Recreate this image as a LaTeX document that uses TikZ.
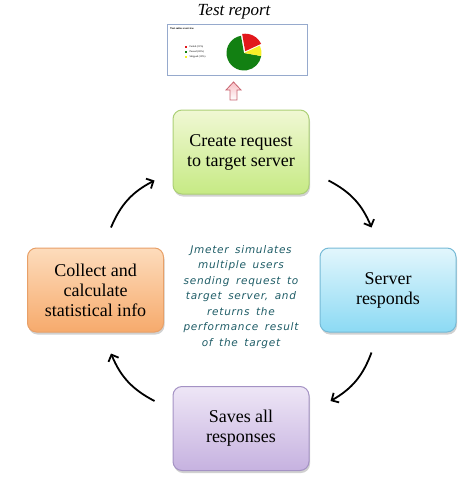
\documentclass[tikz,border=0pt]{standalone}
\usepackage{fontspec}
\setmainfont{Liberation Serif}
\newfontfamily\notefont{DejaVu Sans}[LetterSpace=7,WordSpace=1.6]
\usetikzlibrary{arrows.meta,shadows}

\definecolor{greentop}{RGB}{240,248,212}
\definecolor{greenbot}{RGB}{198,234,132}
\definecolor{greenline}{RGB}{172,208,118}
\definecolor{bluetop}{RGB}{226,246,252}
\definecolor{bluebot}{RGB}{140,218,244}
\definecolor{blueline}{RGB}{118,186,214}
\definecolor{purpletop}{RGB}{238,230,246}
\definecolor{purplebot}{RGB}{198,178,224}
\definecolor{purpleline}{RGB}{164,146,196}
\definecolor{orangetop}{RGB}{253,220,188}
\definecolor{orangebot}{RGB}{246,170,108}
\definecolor{orangeline}{RGB}{232,160,104}
\definecolor{noteteal}{RGB}{30,92,102}
\definecolor{reportblue}{RGB}{150,170,205}
\definecolor{pinkline}{RGB}{200,100,112}
\definecolor{pinkfill}{RGB}{248,190,196}
\definecolor{pgreen}{RGB}{18,128,18}
\definecolor{pred}{RGB}{226,24,28}
\definecolor{pyellow}{RGB}{246,238,40}

\tikzset{
  stepbox/.style={draw, rounded corners=9pt, line width=1pt,
    minimum width=136pt, minimum height=84pt, align=center,
    font=\fontsize{18}{20}\selectfont,
    drop shadow={shadow xshift=1pt, shadow yshift=-2.5pt, opacity=0.3, fill=black!60}},
  cyc/.style={line width=1.8pt, -{Straight Barb[length=5.5pt,width=11pt]}},
  legendbox/.style={minimum size=2.6pt, inner sep=0pt},
  legendtext/.style={anchor=west, inner sep=0pt, font=\fontsize{2.6}{3}\selectfont},
}

\begin{document}
\begin{tikzpicture}[x=1pt,y=-1pt]
\useasboundingbox (0,0) rectangle (474,482);

% test report on top
\node[font=\itshape\fontsize{17}{17}\selectfont] (title) at (234,12) {Test report};
\node[draw=reportblue, line width=1pt, fill=white, minimum width=140pt, minimum height=51pt] (report) at (237,49.5) {};
\node[anchor=north west, inner sep=0pt, font=\bfseries\fontsize{2.8}{3}\selectfont] (overview) at (170,27) {Test suites overview};
\node[legendbox, fill=pred] (lfail) at (186,47) {};
\node[legendbox, fill=pgreen] (lpass) at (186,52) {};
\node[legendbox, fill=pyellow] (lskip) at (186,57) {};
\node[legendtext] at ([xshift=2pt]lfail.east) {Failed (21\%)};
\node[legendtext] at ([xshift=2pt]lpass.east) {Passed (69\%)};
\node[legendtext] at ([xshift=2pt]lskip.east) {Skipped (10\%)};
\coordinate (pie) at (244,53);
\fill[pgreen] (pie) -- ++(-100:17.5) arc[start angle=-100, end angle=-350, radius=17.5] -- cycle;
\fill[pyellow] (pie) -- ++(10:17.5) arc[start angle=10, end angle=-25, radius=17.5] -- cycle;
\fill[pred] ([shift={(1.2,-1.8)}]pie) -- ++(-25:17.5) arc[start angle=-25, end angle=-100, radius=17.5] -- cycle;
\draw[pinkline, line width=0.8pt, top color=pinkfill, bottom color=white]
  (233.5,82) -- (241,90) -- (237,90) -- (237,100) -- (230,100) -- (230,90) -- (226,90) -- cycle;

% the four steps
\node[stepbox, draw=greenline, top color=greentop, bottom color=greenbot] (create) at (241,152) {Create request\\to target server};
\node[stepbox, draw=blueline, top color=bluetop, bottom color=bluebot] (respond) at (388,290) {Server\\responds};
\node[stepbox, draw=purpleline, top color=purpletop, bottom color=purplebot] (saves) at (241,428.5) {Saves all\\responses};
\node[stepbox, draw=orangeline, top color=orangetop, bottom color=orangebot] (collect) at (95.5,290) {Collect and\\calculate\\statistical info};

\node[align=center, text=noteteal, font=\notefont\itshape\fontsize{10.5}{15.5}\selectfont] (note) at (241,297)
  {Jmeter simulates\\multiple users\\sending request to\\target server, and\\returns the\\performance result\\of the target};

% cycle arrows
\draw[cyc] ([shift={(19,-14)}]create.south east) to[bend left=20] ([shift={(52,-20)}]respond.north west);
\draw[cyc] ([shift={(52,20)}]respond.south west) to[bend left=20] ([shift={(21,15)}]saves.north east);
\draw[cyc] ([shift={(-18,15)}]saves.north west) to[bend left=20] ([shift={(-53,21)}]collect.south east);
\draw[cyc] ([shift={(-53,-20)}]collect.north east) to[bend left=20] ([shift={(-18,-14)}]create.south west);
\end{tikzpicture}
\end{document}
